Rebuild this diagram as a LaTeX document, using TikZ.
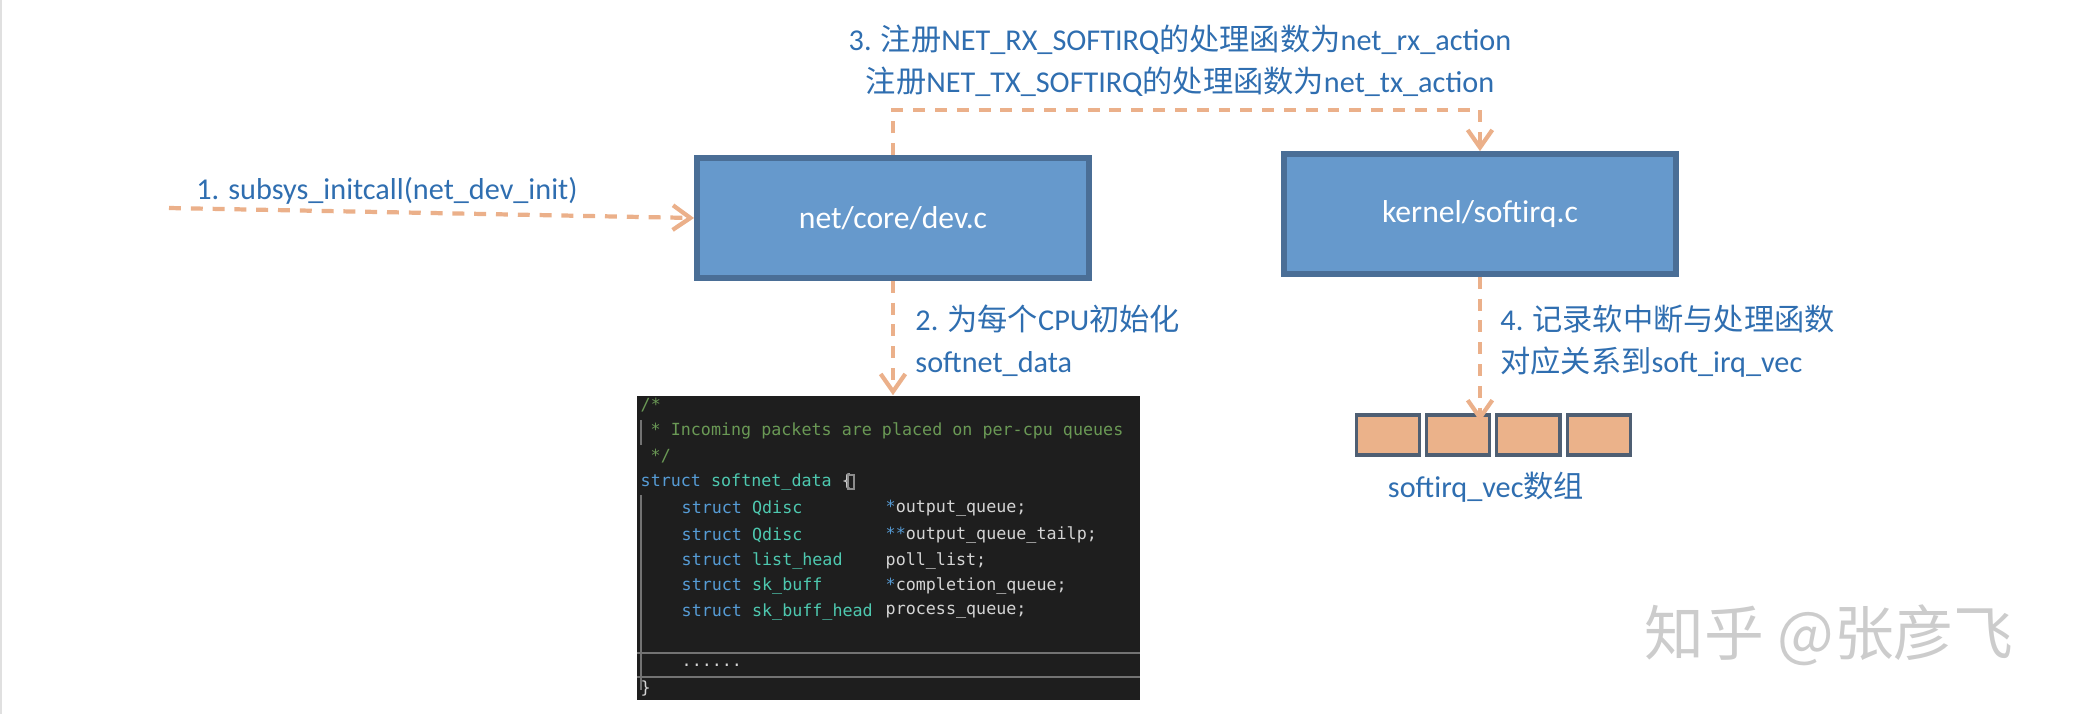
\documentclass[tikz,border=0pt]{standalone}
\usepackage{fontspec}
\setmainfont{Carlito}
\newfontfamily\cjk{Noto Sans CJK SC}
\newfontfamily\codefont{DejaVu Sans Mono}
\usetikzlibrary{arrows.meta,positioning}
\definecolor{boxblue}{HTML}{6699CC}
\definecolor{boxedge}{HTML}{4A6E96}
\definecolor{flow}{HTML}{EBB08A}
\definecolor{txtblue}{HTML}{2F6EB0}
\definecolor{codebg}{HTML}{1E1E1E}
\definecolor{ccomment}{HTML}{6A9955}
\definecolor{ckey}{HTML}{569CD6}
\definecolor{ctype}{HTML}{4EC9B0}
\definecolor{cname}{HTML}{D4D4D4}
\definecolor{cellfill}{HTML}{EBB28A}
\definecolor{celledge}{HTML}{4F5F73}

\begin{document}
\begin{tikzpicture}[x=0.01cm,y=-0.01cm,
    module/.style={draw=boxedge, line width=1.6pt, fill=boxblue, text=white,
      minimum width=3.92cm, minimum height=1.2cm, font=\fontsize{9}{10}\selectfont},
    flowline/.style={draw=flow, line width=1.2pt, dash pattern=on 3.4pt off 2.8pt},
    tip/.style={-{Straight Barb[length=5pt,width=7pt,line width=1.2pt]}},
    lbl/.style={text=txtblue, font=\fontsize{8.6}{12}\selectfont},
    code/.style={inner sep=0pt, anchor=west, font=\codefont\fontsize{4.75}{5}\selectfont},
    cell/.style={draw=celledge, line width=0.9pt, fill=cellfill, minimum width=0.63cm, minimum height=0.4cm, inner sep=0pt}]
  \useasboundingbox (0,0) rectangle (2074,714);
  \draw[black!12, line width=0.4pt] (1,0) -- (1,714);

  % the two source files
  \node[module] (dev) at (893,218) {net/core/dev.c};
  \node[module] (softirq) at (1480,214) {kernel/softirq.c};

  % step 1
  \coordinate (start) at (169,208);
  \draw[flowline,tip] (start) -- (dev.west);
  \node[lbl] (s1) at (387,191) {1. subsys\_initcall(net\_dev\_init)};

  % step 3
  \coordinate (up) at (893,110);
  \draw[flowline,tip] (dev.north) -- (up) -| (softirq.north);
  \node[lbl, align=center] (s3) at (1180,61) {3. {\cjk 注册}NET\_RX\_SOFTIRQ{\cjk 的处理函数为}net\_rx\_action\\
    {\cjk 注册}NET\_TX\_SOFTIRQ{\cjk 的处理函数为}net\_tx\_action};

  % code block
  \fill[codebg] (637,396) rectangle (1140,700);
  \node[inner sep=0pt, minimum width=5.03cm, minimum height=3.04cm] (code) at (888.5,548) {};
  \draw[black!55, line width=0.4pt] (637,653) -- (1140,653) (637,677) -- (1140,677);
  \draw[black!55, line width=0.4pt] (641,420) -- (641,445) (641,495) -- (641,690);
  \node[code, text=ccomment] (c1) at (640,405) {/*};
  \node[code, text=ccomment] (c2) at (650,431) {* Incoming packets are placed on per-cpu queues};
  \node[code, text=ccomment] (c3) at (650,456) {*/};
  \node[code] (c4) at (640,482) {\textcolor{ckey}{struct} \textcolor{ctype}{softnet\_data} \textcolor{cname}{\{}};
  \draw[black!45, line width=0.4pt] (c4.east) ++(-4.5,-7) rectangle ++(6,14);
  \node[code] (c5t) at (681,508) {\textcolor{ckey}{struct} \textcolor{ctype}{Qdisc}};
  \node[code] (c5n) at (885,508) {\textcolor{ckey}{*}\textcolor{cname}{output\_queue;}};
  \node[code] (c6t) at (681,535) {\textcolor{ckey}{struct} \textcolor{ctype}{Qdisc}};
  \node[code] (c6n) at (885,535) {\textcolor{ckey}{**}\textcolor{cname}{output\_queue\_tailp;}};
  \node[code] (c7t) at (681,561) {\textcolor{ckey}{struct} \textcolor{ctype}{list\_head}};
  \node[code] (c7n) at (885,561) {\textcolor{cname}{poll\_list;}};
  \node[code] (c8t) at (681,586) {\textcolor{ckey}{struct} \textcolor{ctype}{sk\_buff}};
  \node[code] (c8n) at (885,586) {\textcolor{ckey}{*}\textcolor{cname}{completion\_queue;}};
  \node[code] (c9t) at (681,612) {\textcolor{ckey}{struct} \textcolor{ctype}{sk\_buff\_head}};
  \node[code] (c9n) at (885,612) {\textcolor{cname}{process\_queue;}};
  \node[code, text=cname] (c10) at (681,665) {......};
  \node[code, text=cname] (c11) at (640,689) {\}};

  % step 2
  \draw[flowline,tip] (dev.south) -- (code.north -| dev.south);
  \node[lbl, anchor=west, align=left] (s2) at (903,341) {2. {\cjk 为每个}CPU{\cjk 初始化}\\softnet\_data};

  % softirq_vec array
  \node[cell] (v1) at (1388,435) {};
  \foreach \i [remember=\i as \j (initially 1)] in {2,3,4}
    \node[cell, right=0.04cm of v\j] (v\i) {};
  \node[lbl] (vec) at (1486,487) {softirq\_vec{\cjk 数组}};

  % step 4
  \draw[flowline,tip] (softirq.south) -- ([yshift=-0.08cm]softirq.south |- v1.north);
  \node[lbl, anchor=west, align=left] (s4) at (1488,341) {4. {\cjk 记录软中断与处理函数}\\{\cjk 对应关系到}soft\_irq\_vec};

  % watermark
  \node[text=black!20, font=\cjk\fontsize{17}{18}\selectfont] (mark) at (1829,635) {知乎 @张彦飞};
\end{tikzpicture}
\end{document}
